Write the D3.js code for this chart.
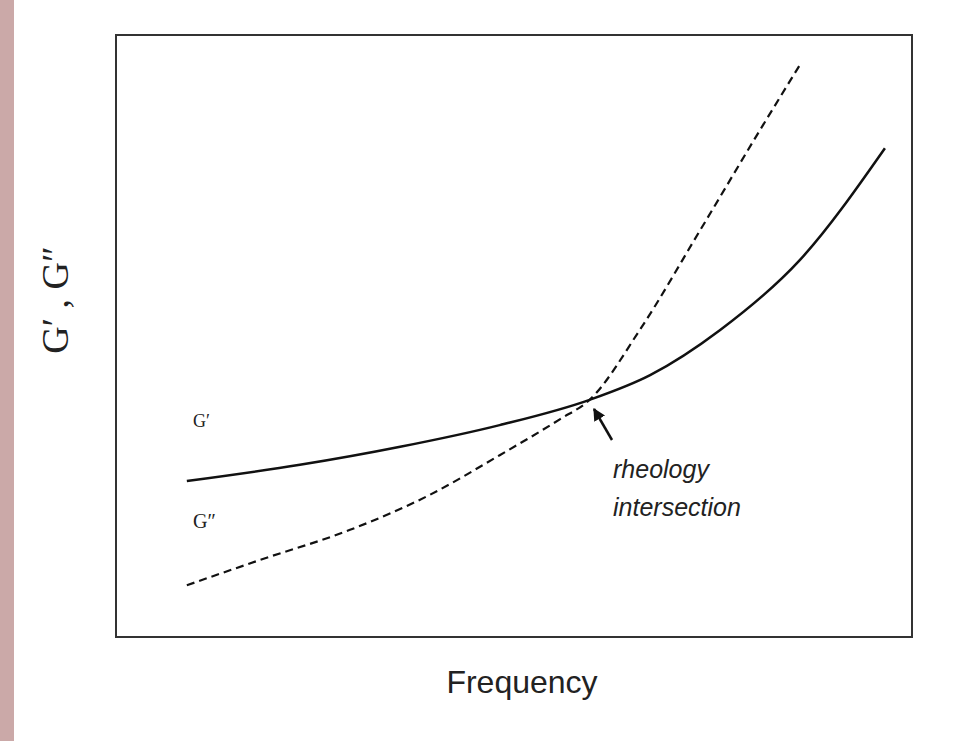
<!DOCTYPE html><html><head><meta charset="utf-8"><script src="https://cdn.jsdelivr.net/npm/d3@7"></script>
<style>body{margin:0;background:#fff}</style></head><body><svg id="c" width="963" height="741"></svg><script>
const gpX=[8.9,23.1,35.7,48.2,59.5,67.1,75.9,85.9,96.6];
const gpY=[25.9,28.6,31.6,35.2,39.4,43.5,51.0,62.6,81.2];
const gppX=[8.9,18.1,29.4,39.4,48.2,55.8,59.5,65.8,73.4,80.9,85.9];
const gppY=[8.6,12.8,17.8,23.6,30.2,36.2,39.4,51.0,67.6,84.2,95.0];
const svg=d3.select("#c");
svg.append("rect").attr("x",0).attr("y",0).attr("width",14).attr("height",741).attr("fill","#cba9a8");
const x=d3.scaleLinear([0,100],[116,912]), y=d3.scaleLinear([0,100],[637,35]);
svg.append("rect").attr("x",116).attr("y",35).attr("width",796).attr("height",602).attr("fill","none").attr("stroke","#333").attr("stroke-width",2);
const line=d3.line().x(d=>x(d[0])).y(d=>y(d[1])).curve(d3.curveMonotoneX);
svg.append("path").attr("d",line(d3.zip(gpX,gpY))).attr("fill","none").attr("stroke","#111").attr("stroke-width",2.5);
svg.append("path").attr("d",line(d3.zip(gppX,gppY))).attr("fill","none").attr("stroke","#111").attr("stroke-width",2.2).attr("stroke-dasharray","8,5");
svg.append("text").attr("x",193).attr("y",427).attr("font-family","Liberation Serif").attr("font-size",18).attr("fill","#222").text("G′");
svg.append("text").attr("x",193).attr("y",528).attr("font-family","Liberation Serif").attr("font-size",20).attr("fill","#222").text("G″");
svg.append("text").attr("x",613).attr("y",478).attr("font-family","Liberation Sans").attr("font-style","italic").attr("font-size",25).attr("fill","#222").text("rheology");
svg.append("text").attr("x",613).attr("y",516).attr("font-family","Liberation Sans").attr("font-style","italic").attr("font-size",25).attr("fill","#222").text("intersection");
svg.append("defs").append("marker").attr("id","ah").attr("viewBox","0 0 10 10").attr("refX",9).attr("refY",5).attr("markerWidth",5).attr("markerHeight",5).attr("orient","auto").append("path").attr("d","M0,0L10,5L0,10z").attr("fill","#111");
svg.append("line").attr("x1",612).attr("y1",440).attr("x2",594).attr("y2",409).attr("stroke","#111").attr("stroke-width",2.5).attr("marker-end","url(#ah)");
svg.append("text").attr("transform","translate(68,300) rotate(-90)").attr("text-anchor","middle").attr("font-family","Liberation Serif").attr("font-size",38).attr("fill","#222").text("G′ , G″");
svg.append("text").attr("x",522).attr("y",693).attr("text-anchor","middle").attr("font-family","Liberation Sans").attr("font-size",32).attr("fill","#222").text("Frequency");
</script></body></html>
